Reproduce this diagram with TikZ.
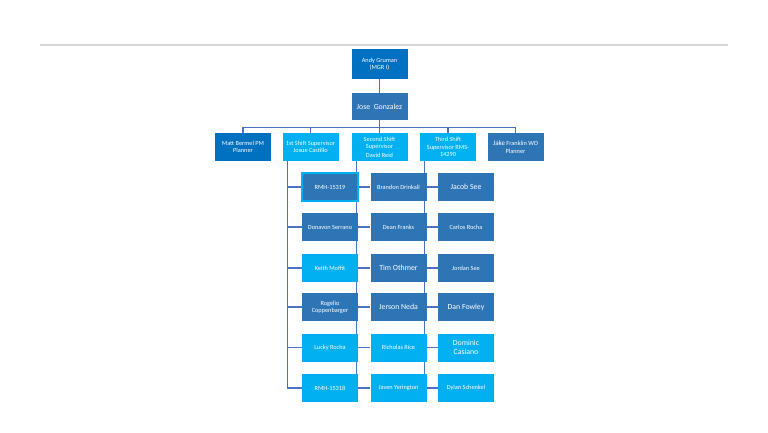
\documentclass[tikz,border=0pt]{standalone}
\usepackage{fontspec}
\setmainfont{Carlito}
\usetikzlibrary{backgrounds}
\definecolor{mgrblue}{HTML}{0070C0}
\definecolor{steelblue}{HTML}{2E75B6}
\definecolor{skyblue}{HTML}{00B0F0}
\definecolor{linkblue}{HTML}{4A72C2}
\definecolor{rulegray}{HTML}{D6D6D6}

\begin{document}
\begin{tikzpicture}[x=1pt, y=-1pt, font=\fontsize{6.3}{7.2}\selectfont,
  box/.style={fill=#1, text=white, align=center, inner sep=1pt,
              minimum width=56pt, minimum height=28pt},
  box/.default=steelblue,
  big/.style={font=\fontsize{7.8}{8.6}\selectfont},
  link/.style={draw=linkblue, line width=1.1pt}]
  \useasboundingbox (0,0) rectangle (768,433);
  \def\xa{330}    % crew columns
  \def\xb{398.5}
  \def\xc{466}

  % top rule
  \draw[rulegray, line width=2.5pt] (40,45) -- (728,45);

  % manager and lead
  \node[box=mgrblue, minimum height=30pt] (andy) at (379.5,64) {Andy Gruman\\(MGR I)};
  \node[box, big, minimum height=27pt] (jose) at (379.5,106.5) {Jose~~Gonzalez};

  % second level
  \node[box=mgrblue]  (matt)   at (243,147)   {Matt Bermel PM\\Planner};
  \node[box=skyblue]  (first)  at (310.5,147) {1st Shift Supervisor\\Josue Castillo};
  \node[box=skyblue]  (second) at (379.5,147) {Second Shift\\Supervisor\\[1.5pt]David Reid};
  \node[box=skyblue]  (third)  at (448,147)   {Third Shift\\Supervisor RMS-\\14290};
  \node[box]          (jake)   at (515.5,147) {{\fontsize{7}{7}\selectfont Jake} Franklin WO\\Planner};

  % first shift crew
  \node[box, draw=skyblue, line width=1.2pt] (a1) at (\xa,187) {RMH-15319};
  \node[box]         (a2) at (\xa,227)   {Donavon Serrano};
  \node[box=skyblue] (a3) at (\xa,268)   {Keith Moffit};
  \node[box]         (a4) at (\xa,307)   {Rogelio\\Coppenbarger};
  \node[box=skyblue] (a5) at (\xa,347.5) {Lucky Rocha};
  \node[box=skyblue] (a6) at (\xa,388)   {RMH-15318};

  % second shift crew
  \node[box]         (b1) at (\xb,187)   {Brandon Drinkall};
  \node[box]         (b2) at (\xb,227)   {Dean Franks};
  \node[box, big]    (b3) at (\xb,268)   {Tim Othmer};
  \node[box, big]    (b4) at (\xb,307)   {Jerson Neda};
  \node[box=skyblue] (b5) at (\xb,347.5) {Richolas Rice};
  \node[box=skyblue] (b6) at (\xb,388)   {Javen Yerington};

  % third shift crew
  \node[box, big]    (c1) at (\xc,187)   {Jacob See};
  \node[box]         (c2) at (\xc,227)   {Carlos Rocha};
  \node[box]         (c3) at (\xc,268)   {Jordan See};
  \node[box, big]    (c4) at (\xc,307)   {Dan Fowley};
  \node[box=skyblue, big] (c5) at (\xc,347.5) {Dominic\\Casiano};
  \node[box=skyblue] (c6) at (\xc,388)   {Dylan Schenkel};

  \begin{scope}[on background layer]
    % tree links
    \coordinate (hub) at ([yshift=-7pt]jose.south);
    \draw[link] (andy) -- (jose);
    \draw[link] (jose.south) -- (hub);
    \draw[link] (matt.north) |- (hub) -| (jake.north);
    \foreach \n in {first,second,third}
      \draw[link] (hub -| \n.north) -- (\n.north);

    % hanging crews
    \foreach \s/\k in {first/a, second/b, third/c} {
      \coordinate (\s-bus) at ([xshift=5pt]\s.south west);
      \draw[link] (\s-bus) |- (\k6.west);
      \foreach \i in {1,...,5}
        \draw[link] (\s-bus |- \k\i.west) -- (\k\i.west);
    }
  \end{scope}
\end{tikzpicture}
\end{document}
